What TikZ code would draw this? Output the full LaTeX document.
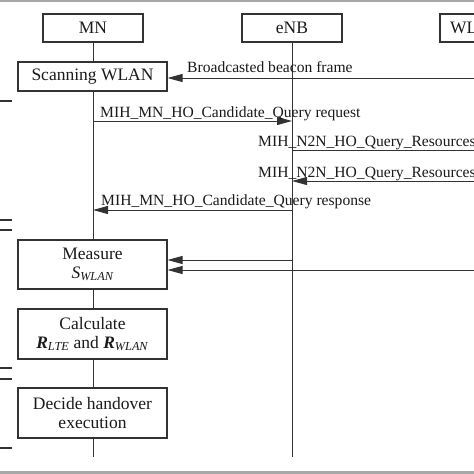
\documentclass[tikz,border=0pt]{standalone}
\usepackage{fontspec}
\setmainfont{Liberation Serif}
\usetikzlibrary{arrows.meta}
\definecolor{ln}{HTML}{333333}
\definecolor{tx}{HTML}{1A1A1A}
\definecolor{band}{HTML}{A8A8A8}
\tikzset{
  actor/.style={draw=ln, line width=1.1pt, fill=white, minimum width=100pt, minimum height=28pt, inner sep=0pt, text=tx, font=\fontsize{17.5}{20}\selectfont},
  stepbox/.style={draw=ln, line width=1.1pt, fill=white, minimum width=149pt, inner sep=0pt, text=tx, align=center, font=\fontsize{17.5}{19}\selectfont},
  life/.style={draw=ln, line width=0.9pt},
  msg/.style={draw=ln, line width=0.9pt, -{Triangle[length=15pt,width=8pt]}},
  lbl/.style={anchor=base west, inner sep=0pt, text=tx, font=\fontsize{15.6}{18}\selectfont},
  tick/.style={draw=ln, line width=1.1pt}
}
\begin{document}
\begin{tikzpicture}[x=1pt,y=-1pt]
\useasboundingbox (0,0) rectangle (474,474);
\fill[white] (0,0) rectangle (474,474);
\clip (0,0) rectangle (474,474);
\fill[band] (0,0) rectangle (474,2);
\fill[band] (0,471) rectangle (474,474);

% lifeline ends
\coordinate (mnEnd) at (93,457);
\coordinate (enbEnd) at (292,457);
\coordinate (wlEnd) at (490,457);

% actors
\node[actor] (mn) at (93,28) {MN};
\node[actor] (enb) at (292,28) {eNB};
\node[actor, text width=80pt, inner xsep=10pt, align=left] (wl) at (490,28) {WLAN};

\draw[life] (mn.south) -- (mnEnd);
\draw[life] (enb.south) -- (enbEnd);
\draw[life] (wl.south) -- (wlEnd);

% steps
\node[stepbox, minimum height=29pt] (scan) at (92.5,76.5) {Scanning WLAN};
\node[stepbox, minimum height=49pt] (meas) at (92.5,264.5) {Measure\\\textit{S\textsubscript{WLAN}}};
\node[stepbox, minimum height=50pt] (calc) at (92.5,334) {Calculate\\\textbf{\textit{R}}\textsubscript{\textit{LTE}} and \textbf{\textit{R}}\textsubscript{\textit{WLAN}}};
\node[stepbox, minimum height=50pt] (dec) at (92.5,413) {Decide handover\\execution};

% coordinates on lifelines
\coordinate (wl1) at (490,78);
\coordinate (mn2) at (93,121);
\coordinate (enb2) at (292,121);
\coordinate (enb3) at (292,150);
\coordinate (wl3) at (490,150);
\coordinate (wl4) at (490,181);
\coordinate (enb4) at (292,181);
\coordinate (enb5) at (292,210);
\coordinate (mn5) at (93,210);
\coordinate (enb6) at (292,260);
\coordinate (wl7) at (490,270);

% messages
\draw[msg] (wl1) -- (scan.east |- wl1);
\node[lbl] (l1) at (187,72) {Broadcasted beacon frame};

\draw[msg] (mn2) -- (enb2);
\node[lbl] (l2) at (100,117) {MIH\_MN\_HO\_Candidate\_Query request};

\draw[msg] (enb3) -- (wl3);
\node[lbl] (l3) at (258,146) {MIH\_N2N\_HO\_Query\_Resources request};

\draw[msg] (wl4) -- (enb4);
\node[lbl] (l4) at (258,177) {MIH\_N2N\_HO\_Query\_Resources response};

\draw[msg] (enb5) -- (mn5);
\node[lbl] (l5) at (101,205) {MIH\_MN\_HO\_Candidate\_Query response};

\draw[msg] (enb6) -- (meas.east |- enb6);
\draw[msg] (wl7) -- (meas.east |- wl7);

% left ticks
\coordinate (t1a) at (0,101); \coordinate (t1b) at (12,101);
\coordinate (t2a) at (0,220); \coordinate (t2b) at (12,220);
\coordinate (t3a) at (0,230); \coordinate (t3b) at (12,230);
\coordinate (t4a) at (0,368); \coordinate (t4b) at (12,368);
\coordinate (t5a) at (0,379); \coordinate (t5b) at (12,379);
\coordinate (t6a) at (0,448); \coordinate (t6b) at (12,448);
\draw[tick] (t1a) -- (t1b);
\draw[tick] (t2a) -- (t2b);
\draw[tick] (t3a) -- (t3b);
\draw[tick] (t4a) -- (t4b);
\draw[tick] (t5a) -- (t5b);
\draw[tick] (t6a) -- (t6b);
\end{tikzpicture}
\end{document}
